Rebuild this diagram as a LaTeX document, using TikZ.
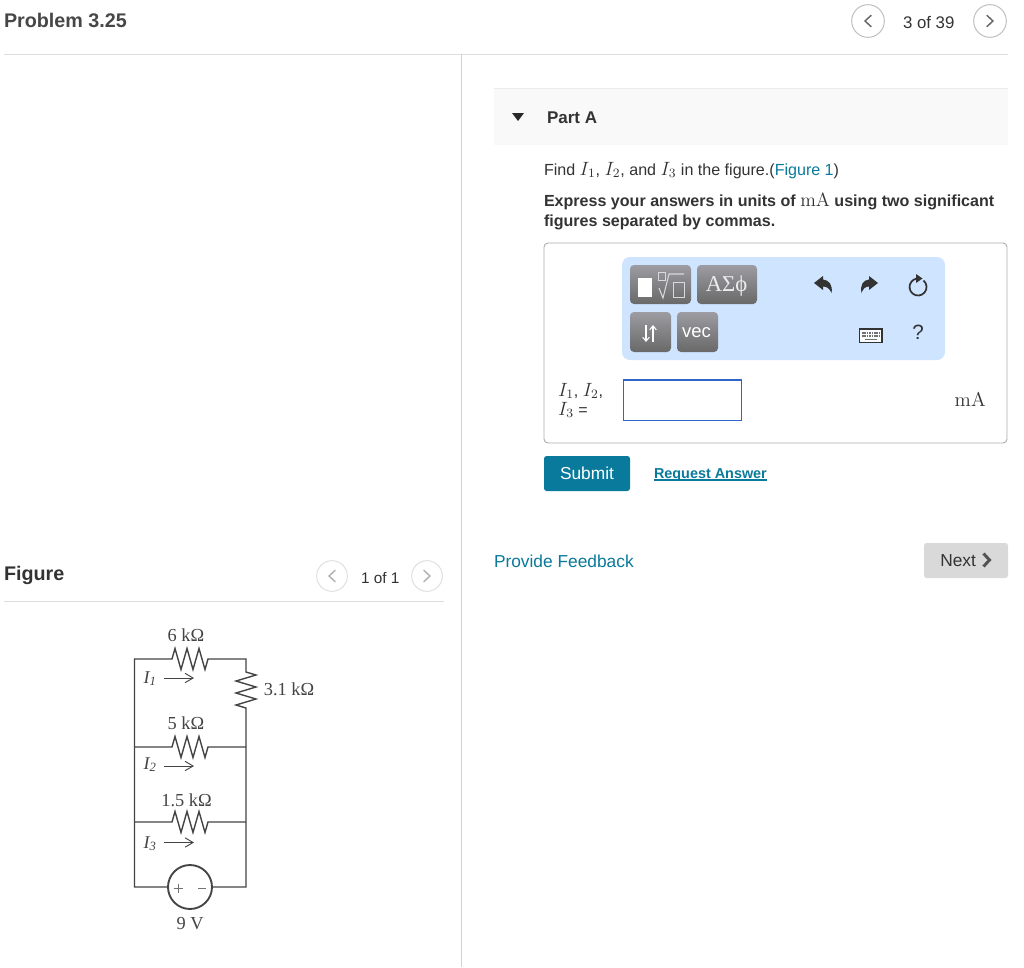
\documentclass[tikz,border=0pt]{standalone}
\usepackage[no-math]{fontspec}
\usepackage{graphicx}
\setmainfont{Liberation Sans}
\newfontfamily\serifx{Liberation Serif}
\usetikzlibrary{arrows.meta,shadings}
\definecolor{ink}{HTML}{333333}
\definecolor{teal}{HTML}{0A7A9C}
\definecolor{rulec}{HTML}{DDDDDD}
\definecolor{wire}{HTML}{444444}
\definecolor{iconc}{HTML}{333333}
\definecolor{btop}{HTML}{9C9CA2}
\definecolor{bbot}{HTML}{696969}
\definecolor{panel}{HTML}{CEE4FF}
\definecolor{inputb}{HTML}{2F66C8}
\newcommand{\mth}[1]{\scalebox{1.2}{$#1$}}
\tikzset{
  txt/.style={anchor=base west,inner sep=0pt,outer sep=0pt,text=ink,font=\fontsize{12.05}{14}\selectfont},
  bold/.style={txt,font=\fontsize{12.05}{14}\selectfont\bfseries},
  head/.style={txt,font=\fontsize{14.8}{17}\selectfont\bfseries},
  link/.style={txt,text=teal},
  rulel/.style={draw=rulec,line width=0.75pt},
  wireline/.style={draw=wire,line width=1.05pt,line join=miter},
  circ/.style={anchor=base,inner sep=0pt,outer sep=0pt,text=wire,font=\serifx\fontsize{13.75}{16}\selectfont},
  curlab/.style={circ,font=\serifx\fontsize{13.5}{16}\selectfont\itshape},
  curr/.style={draw=wire,line width=0.7pt,-{Straight Barb[length=6pt,width=7pt]}},
  tool/.style={rounded corners=3pt,top color=btop,bottom color=bbot,draw=none},
  navc/.style={circle,draw=black!25,line width=0.75pt,minimum size=24.5pt,inner sep=0pt},
  chev/.style={draw=#1,line width=1.1pt,line cap=round,line join=round},
  icon/.style={fill=iconc,draw=none},
}
\newcommand{\zigh}{-- ++(3,-10.5) -- ++(6,21) -- ++(6,-21) -- ++(6,21) -- ++(6,-21) -- ++(6,21) -- ++(3,-10.5)}
\newcommand{\zigv}{-- ++(10,3) -- ++(-20,6) -- ++(20,6) -- ++(-20,6) -- ++(20,6) -- ++(-20,6) -- ++(10,3)}
\begin{document}
\begin{tikzpicture}[x=0.75pt,y=-0.75pt]
\useasboundingbox (0,0) rectangle (1024,967);
\fill[white] (0,0) rectangle (1024,967);
% header
\node[head,text=ink!90!white] (title) at (4,27) {Problem 3.25};
\draw[rulel] (4,54) -- (1008,54);
\draw[draw=black!18,line width=0.75pt] (461,54) -- (461,967);
\node[navc] (prev) at (868,21) {};
\draw[chev=black!60] (871,15.5) -- (865,21) -- (871,26.5);
\node[txt,font=\fontsize{12.6}{14}\selectfont] (count) at (903,28) {3 of 39};
\node[navc] (nxt) at (990,21) {};
\draw[chev=black!60] (987,15.5) -- (993,21) -- (987,26.5);
% part A
\fill[black!2.5] (494,88) rectangle (1008,145);
\draw[draw=black!8,line width=0.75pt] (494,88) -- (1008,88);
\fill[ink!80!black] (512,113) -- (524,113) -- (518,121) -- cycle;
\node[bold,font=\fontsize{12.75}{15}\selectfont\bfseries] (parta) at (547,123) {Part A};
\node[txt] (find) at (544,175) {Find \mth{I_1}, \mth{I_2}, and \mth{I_3} in the figure.(\textcolor{teal}{Figure 1})};
\node[bold] (expr) at (544,206) {Express your answers in units of \mth{\mathrm{mA}} using two significant};
\node[bold] (expr2) at (544,226) {figures separated by commas.};
% answer box
\draw[draw=black!32,line width=0.7pt,rounded corners=3pt] (544,243) rectangle (1007,443);
\fill[fill=panel,rounded corners=6pt] (622,257) rectangle (945,360);
\shade[tool] (630,265) rectangle (691,304);
\shade[tool] (697,265) rectangle (757,304);
\shade[tool] (630,312) rectangle (671,352);
\shade[tool] (677,312) rectangle (718,352);
% template icon
\fill[white] (638,278) rectangle (652,297);
\draw[white!85!black,line width=0.7pt] (658,272) rectangle (665,280);
\draw[white!85!black,line width=0.8pt] (659,288) -- (663,298) -- (669,274) -- (684,274);
\draw[white!85!black,line width=0.7pt] (673,282) rectangle (684,297);
\node[anchor=base,inner sep=0pt,text=white!92!black,font=\serifx\fontsize{17}{19}\selectfont] (greek) at (726.5,291) {ΑΣϕ};
\draw[white,line width=0.8pt,-{Straight Barb[length=3pt,width=5pt]}] (646,325) -- (646,342);
\draw[white,line width=0.8pt,-{Straight Barb[length=3pt,width=5pt]}] (653,342) -- (653,325);
\node[anchor=base,inner sep=0pt,text=white,font=\fontsize{13.9}{15}\selectfont] (vec) at (696.5,337) {vec};
% undo redo reload
\fill[icon] (814,283) -- (823,276) -- (823,279.5) .. controls (829,280) and (833,285) .. (831.5,293) .. controls (830,289) and (827,286.5) .. (823,286.5) -- (823,290) -- cycle;
\fill[icon] (878,283) -- (869,276) -- (869,279.5) .. controls (863,280) and (860,285) .. (861.5,293) .. controls (863,289) and (865,286.5) .. (869,286.5) -- (869,290) -- cycle;
\draw[iconc,line width=1.3pt] (923.5,280.5) arc[start angle=-50,end angle=262,radius=8.5];
\fill[icon] (916,274) -- (922.5,278.5) -- (916,283) -- cycle;
% keyboard
\draw[iconc,line width=0.9pt,fill=white!85!panel] (859.5,329) rectangle (882,342.5);
\draw[iconc!70!white,line width=1.5pt,dash pattern=on 1.2pt off 0.6pt] (862,332.5) -- (880,332.5);
\draw[iconc!70!white,line width=1.5pt,dash pattern=on 1.2pt off 0.6pt] (862,336) -- (880,336);
\draw[iconc!70!white,line width=1.3pt] (865,339.5) -- (877,339.5);
\node[anchor=base,inner sep=0pt,text=ink,font=\fontsize{15.5}{16}\selectfont] (help) at (918,339) {?};
% input row
\node[txt] (lab1) at (558,396) {\mth{I_1}, \mth{I_2},};
\node[txt] (lab2) at (558,415) {\mth{I_3} =};
\draw[draw=inputb,line width=0.8pt] (623.5,380) rectangle (741.5,420.5);
\node[anchor=base east,inner sep=0pt,text=ink,font=\fontsize{12}{14}\selectfont] (ma) at (986,406) {\scalebox{1.25}{$\mathrm{mA}$}};
% submit
\fill[fill=teal,rounded corners=2pt] (544,456) rectangle (630,491);
\node[anchor=base,inner sep=0pt,text=white,font=\fontsize{13}{15}\selectfont] (submit) at (587,479) {Submit};
\node[link,font=\fontsize{10.8}{14}\selectfont\bfseries] (req) at (654,478) {Request Answer};
\draw[teal,line width=0.9pt] (654,480) -- (req.base east |- 0,480);
% feedback
\node[link,font=\fontsize{13}{15}\selectfont] (fb) at (494,567) {Provide Feedback};
\fill[fill=black!15,rounded corners=2pt] (924,543) rectangle (1008,578);
\node[anchor=base west,inner sep=0pt,text=ink,font=\fontsize{13}{14}\selectfont] (next) at (940,566) {Next};
\draw[draw=ink!85,line width=2.2pt,line join=miter] (983.5,553.5) -- (989.5,560) -- (983.5,566.5);
% figure head
\node[head] (fig) at (4,580) {Figure};
\node[navc,draw=black!12,minimum size=23pt] (fprev) at (332,576) {};
\draw[chev=black!30] (335,570.5) -- (329,576) -- (335,581.5);
\node[txt,font=\fontsize{11.5}{14}\selectfont] (fcount) at (361,583) {1 of 1};
\node[navc,draw=black!12,minimum size=23pt] (fnext) at (427,576) {};
\draw[chev=black!30] (424,570.5) -- (430,576) -- (424,581.5);
\draw[rulel] (4,601.5) -- (444,601.5);
% circuit
\coordinate (tl) at (134.5,659);
\coordinate (tr) at (246,659);
\coordinate (ml) at (134.5,747);
\coordinate (mr) at (246,747);
\coordinate (nl) at (134.5,822);
\coordinate (nr) at (246,822);
\coordinate (bl) at (134.5,887);
\coordinate (br) at (246,887);
\node[circle,draw=wire,line width=1.4pt,minimum size=33pt,inner sep=0pt] (src) at (190,887) {};
\draw[wireline] (src.west) -- (bl) -- (nl) -- (ml) -- (tl) -- (172,659) \zigh -- (tr) -- (246,672) \zigv -- (mr) -- (nr) -- (br) -- (src.east);
\draw[wireline] (ml) -- (172,747) \zigh -- (mr);
\draw[wireline] (nl) -- (172,822) \zigh -- (nr);
\draw[wire!75!white,line width=0.7pt] (173.5,888) -- (182.5,888) (178,883.5) -- (178,892.5) (198,888) -- (206,888);
\node[circ] (r1) at (186,641) {6 kΩ};
\node[circ] (r2) at (289,695) {3.1 kΩ};
\node[circ] (r3) at (186,729) {5 kΩ};
\node[circ] (r4) at (186.5,806) {1.5 kΩ};
\node[circ] (v) at (190,929) {9 V};
\node[curlab] (i1) at (150,683) {I\textsubscript{1}};
\node[curlab] (i2) at (150,769) {I\textsubscript{2}};
\node[curlab] (i3) at (150,848) {I\textsubscript{3}};
\coordinate (a1s) at (164,678); \coordinate (a1e) at (194,678);
\coordinate (a2s) at (164,766); \coordinate (a2e) at (194,766);
\coordinate (a3s) at (164,842.5); \coordinate (a3e) at (194,842.5);
\draw[curr] (a1s) -- (a1e);
\draw[curr] (a2s) -- (a2e);
\draw[curr] (a3s) -- (a3e);
\end{tikzpicture}
\end{document}
